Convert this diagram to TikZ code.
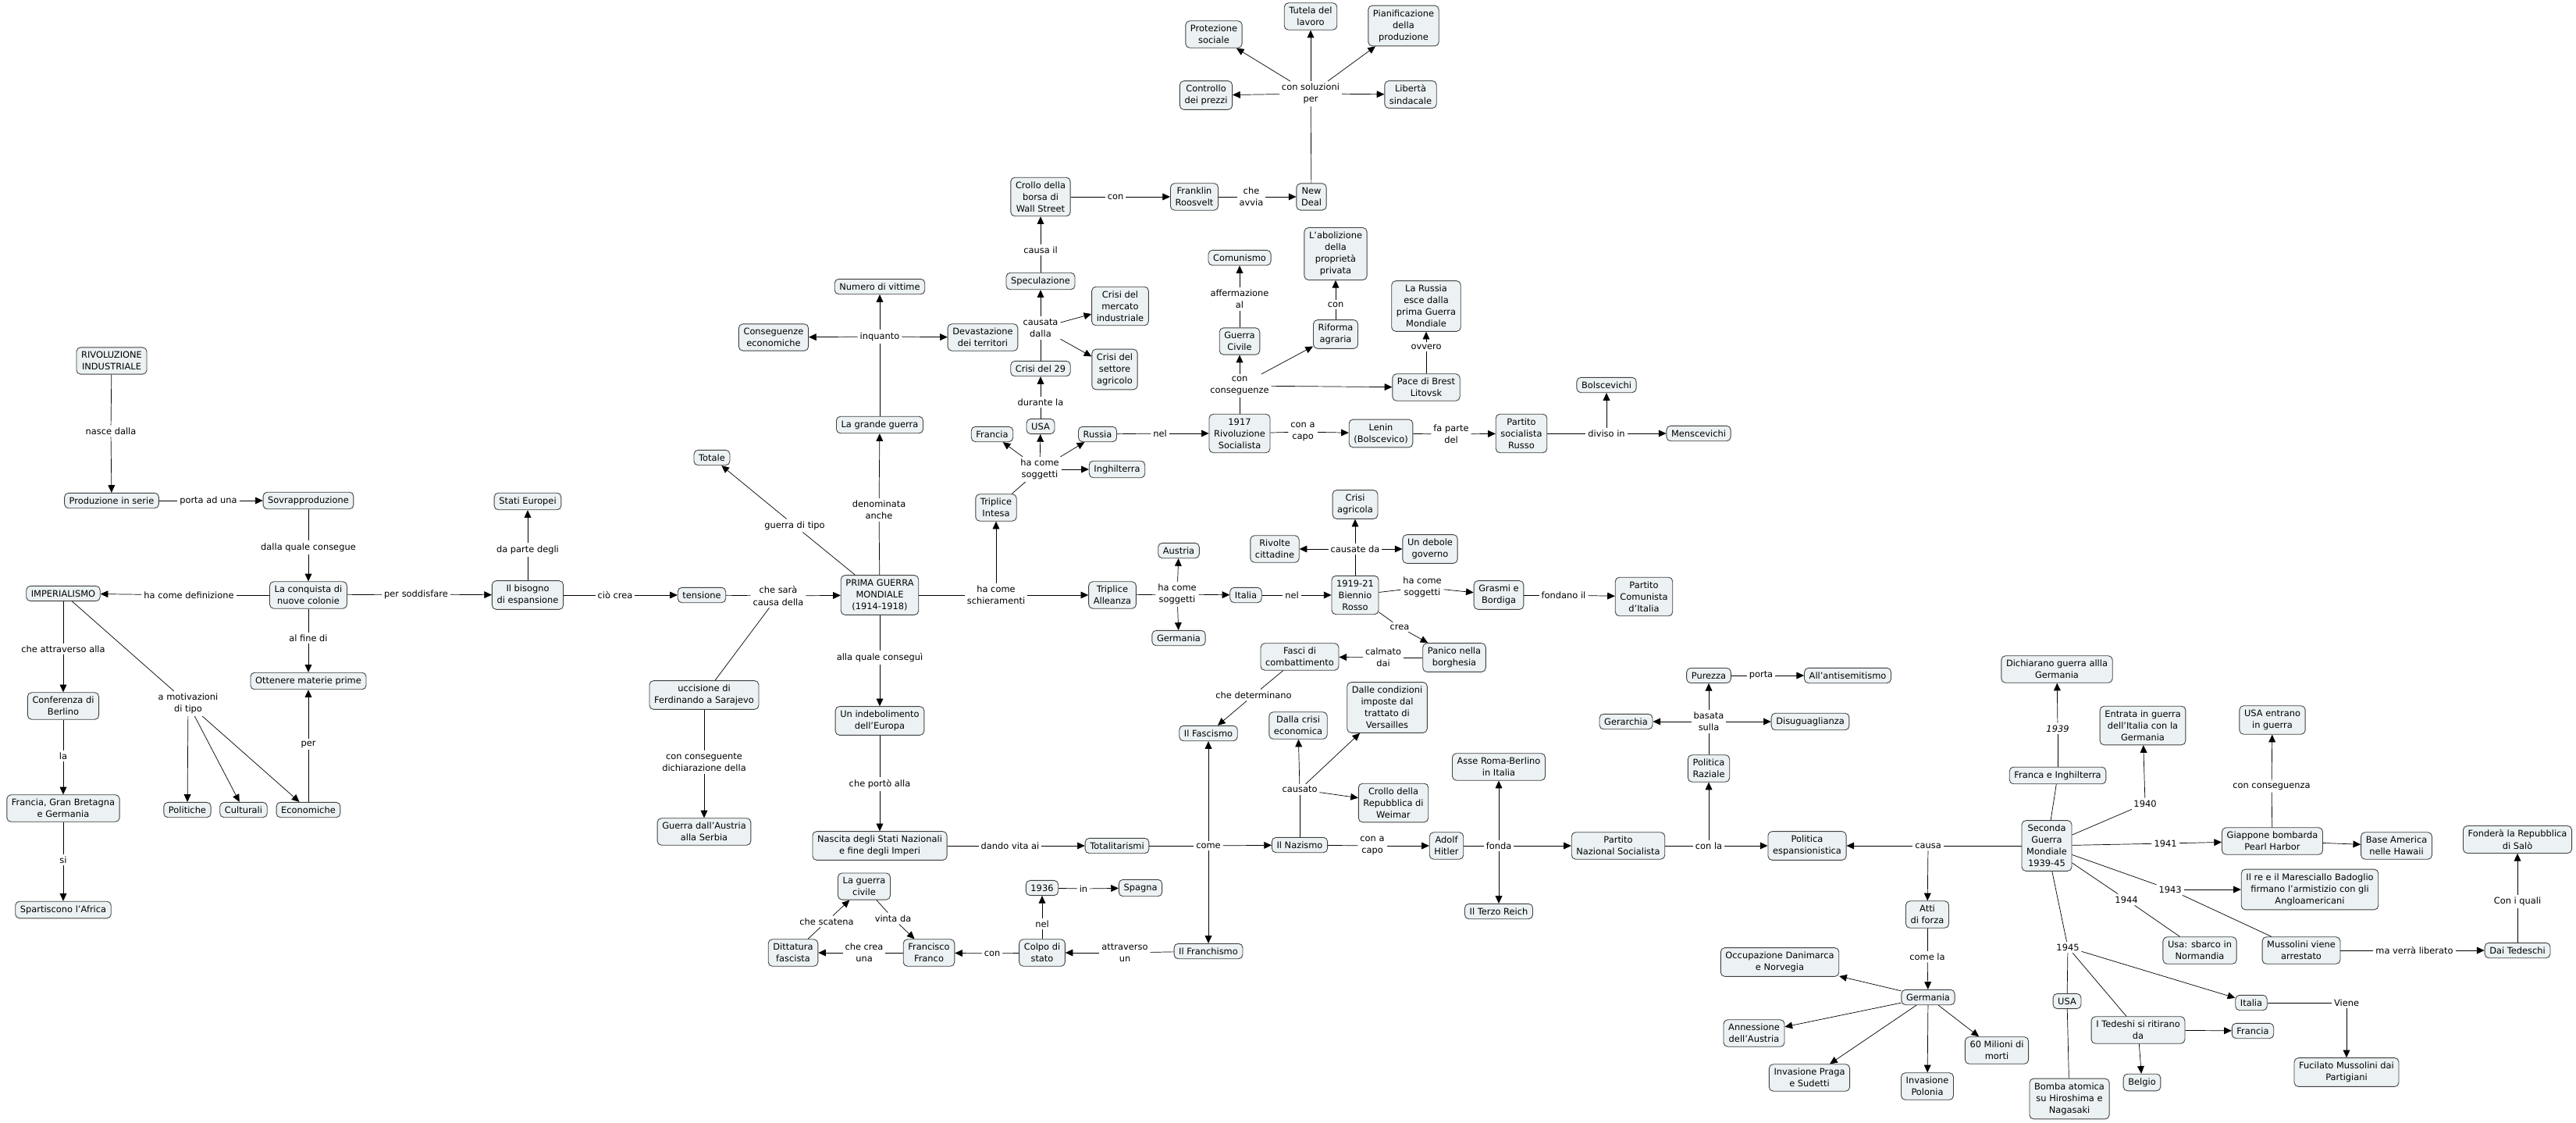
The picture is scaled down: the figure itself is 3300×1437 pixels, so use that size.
\documentclass[tikz,border=0pt]{standalone}
\usepackage{fontspec}
\setmainfont{DejaVu Sans}
\usetikzlibrary{arrows.meta}
\newcommand\cmapedge[3]{\draw[ln] (#1) -- (#2);\foreach \t in {#3}{\draw[ar] (#2) -- (\t);}}
\begin{document}
\begin{tikzpicture}[x=0.02cm,y=-0.02cm,
  box/.style={draw=black!75,fill={rgb,255:red,236;green,242;blue,244},rounded corners=3pt,align=center,inner xsep=3.5pt,inner ysep=3pt,font=\fontsize{6.5}{8.6}\selectfont,line width=0.5pt},
  lbl/.style={align=center,inner sep=1.5pt,font=\fontsize{6.5}{8.6}\selectfont},
  ln/.style={line width=0.4pt},
  ar/.style={line width=0.4pt,-{Triangle[length=5.5pt,width=5pt]}}]
\useasboundingbox (0,0) rectangle (3300,1437);
\fill[white] (0,0) rectangle (3300,1437);
% boxes
\node[box] (riv) at (143,462) {RIVOLUZIONE\\INDUSTRIALE};
\node[box] (prod) at (143,641) {Produzione in serie};
\node[box] (sovr) at (395,641) {Sovrapproduzione};
\node[box] (stati) at (676,642) {Stati Europei};
\node[box] (conq) at (395,762) {La conquista di\\nuove colonie};
\node[box] (imp) at (81,760) {IMPERIALISMO};
\node[box] (bis) at (676,762) {Il bisogno\\di espansione};
\node[box] (ott) at (395,872) {Ottenere materie prime};
\node[box] (conf) at (81,904) {Conferenza di\\Berlino};
\node[box] (fgb) at (81,1035) {Francia, Gran Bretagna\\e Germania};
\node[box] (spart) at (81,1165) {Spartiscono l'Africa};
\node[box] (pol) at (240,1037) {Politiche};
\node[box] (cult) at (312,1037) {Culturali};
\node[box] (econ) at (395,1037) {Economiche};
\node[box] (tens) at (899,762) {tensione};
\node[box] (pgm) at (1127,762) {PRIMA GUERRA\\MONDIALE\\(1914-1918)};
\node[box] (lgg) at (1127,544) {La grande guerra};
\node[box] (tot) at (912,586) {Totale};
\node[box] (tint) at (1276,650) {Triplice\\Intesa};
\node[box] (tall) at (1425,762) {Triplice\\Alleanza};
\node[box] (aus) at (1510,705) {Austria};
\node[box] (ger) at (1510,817) {Germania};
\node[box] (ita) at (1596,762) {Italia};
\node[box] (fra) at (1271,556) {Francia};
\node[box] (usa) at (1333,546) {USA};
\node[box] (rus) at (1406,556) {Russia};
\node[box] (ing) at (1431,601) {Inghilterra};
\node[box] (rs) at (1588,555) {1917\\Rivoluzione\\Socialista};
\node[box] (ucc) at (902,890) {uccisione di\\Ferdinando a Sarajevo};
\node[box] (gas) at (902,1065) {Guerra dall'Austria\\alla Serbia};
\node[box] (indeb) at (1127,923) {Un indebolimento\\dell'Europa};
\node[box] (nasc) at (1127,1083) {Nascita degli Stati Nazionali\\e fine degli Imperi};
\node[box] (totr) at (1431,1083) {Totalitarismi};
\node[box] (naz) at (1665,1082) {Il Nazismo};
\node[box] (fasc) at (1548,939) {Il Fascismo};
\node[box] (fdc) at (1665,841) {Fasci di\\combattimento};
\node[box] (fran) at (1548,1218) {Il Franchismo};
\node[box] (colpo) at (1335,1220) {Colpo di\\stato};
\node[box] (y36) at (1335,1137) {1936};
\node[box] (spa) at (1461,1137) {Spagna};
\node[box] (ffr) at (1190,1220) {Francisco\\Franco};
\node[box] (ditt) at (1016,1220) {Dittatura\\fascista};
\node[box] (lgc) at (1107,1135) {La guerra\\civile};
\node[box] (dce) at (1663,929) {Dalla crisi\\economica};
\node[box] (dcv) at (1777,906) {Dalle condizioni\\imposte dal\\trattato di\\Versailles};
\node[box] (weim) at (1785,1028) {Crollo della\\Repubblica di\\Weimar};
\node[box] (hit) at (1853,1083) {Adolf\\Hitler};
\node[box] (asse) at (1920,982) {Asse Roma-Berlino\\in Italia};
\node[box] (reich) at (1920,1167) {Il Terzo Reich};
\node[box] (pns) at (2073,1083) {Partito\\Nazional Socialista};
\node[box] (pesp) at (2315,1083) {Politica\\espansionistica};
\node[box] (praz) at (2189,984) {Politica\\Raziale};
\node[box] (ger2) at (2083,924) {Gerarchia};
\node[box] (disu) at (2319,924) {Disuguaglianza};
\node[box] (pur) at (2189,865) {Purezza};
\node[box] (anti) at (2367,865) {All'antisemitismo};
\node[box] (prot) at (1555,44) {Protezione\\sociale};
\node[box] (tut) at (1679,21) {Tutela del\\lavoro};
\node[box] (pian) at (1798,33) {Pianificazione\\della\\produzione};
\node[box] (contr) at (1545,122) {Controllo\\dei prezzi};
\node[box] (lib) at (1807,121) {Libertà\\sindacale};
\node[box] (crollo) at (1333,252) {Crollo della\\borsa di\\Wall Street};
\node[box] (frk) at (1530,252) {Franklin\\Roosvelt};
\node[box] (nd) at (1680,252) {New\\Deal};
\node[box] (spec) at (1333,360) {Speculazione};
\node[box] (nvit) at (1127,367) {Numero di vittime};
\node[box] (cec) at (991,432) {Conseguenze\\economiche};
\node[box] (dev) at (1259,432) {Devastazione\\dei territori};
\node[box] (cmi) at (1435,392) {Crisi del\\mercato\\industriale};
\node[box] (csa) at (1428,473) {Crisi del\\settore\\agricolo};
\node[box] (c29) at (1333,472) {Crisi del 29};
\node[box] (com) at (1588,330) {Comunismo};
\node[box] (gciv) at (1588,437) {Guerra\\Civile};
\node[box] (abol) at (1711,325) {L'abolizione\\della\\proprietà\\privata};
\node[box] (rif) at (1711,428) {Riforma\\agraria};
\node[box] (resce) at (1827,392) {La Russia\\esce dalla\\prima Guerra\\Mondiale};
\node[box] (brest) at (1827,496) {Pace di Brest\\Litovsk};
\node[box] (lenin) at (1769,555) {Lenin\\(Bolscevico)};
\node[box] (psr) at (1949,555) {Partito\\socialista\\Russo};
\node[box] (bol) at (2058,493) {Bolscevichi};
\node[box] (men) at (2176,555) {Menscevichi};
\node[box] (cagr) at (1736,646) {Crisi\\agricola};
\node[box] (riv2) at (1633,703) {Rivolte\\cittadine};
\node[box] (deb) at (1832,703) {Un debole\\governo};
\node[box] (bien) at (1736,762) {1919-21\\Biennio\\Rosso};
\node[box] (gras) at (1920,762) {Grasmi e\\Bordiga};
\node[box] (pci) at (2106,764) {Partito\\Comunista\\d'Italia};
\node[box] (pan) at (1863,842) {Panico nella\\borghesia};
\node[box] (sgm) at (2622,1083) {Seconda\\Guerra\\Mondiale\\1939-45};
\node[box] (atti) at (2469,1171) {Atti\\di forza};
\node[box] (germ) at (2470,1277) {Germania};
\node[box] (occ) at (2280,1232) {Occupazione Danimarca\\e Norvegia};
\node[box] (ann) at (2247,1323) {Annessione\\dell'Austria};
\node[box] (ipr) at (2318,1380) {Invasione Praga\\e Sudetti};
\node[box] (ipo) at (2469,1391) {Invasione\\Polonia};
\node[box] (mil) at (2558,1345) {60 Milioni di\\morti};
\node[box] (fei) at (2636,993) {Franca e Inghilterra};
\node[box] (dich) at (2635,857) {Dichiarano guerra allla\\Germania};
\node[box] (entr) at (2745,929) {Entrata in guerra\\dell'Italia con la\\Germania};
\node[box] (usae) at (2911,922) {USA entrano\\in guerra};
\node[box] (giap) at (2911,1077) {Giappone bombarda\\Pearl Harbor};
\node[box] (base) at (3070,1083) {Base America\\nelle Hawaii};
\node[box] (re) at (2959,1139) {Il re e il Maresciallo Badoglio\\firmano l'armistizio con gli\\Angloamericani};
\node[box] (sbar) at (2818,1217) {Usa: sbarco in\\Normandia};
\node[box] (muss) at (2948,1217) {Mussolini viene\\arrestato};
\node[box] (tede) at (3225,1217) {Dai Tedeschi};
\node[box] (salo) at (3225,1075) {Fonderà la Repubblica\\di Salò};
\node[box] (usa2) at (2648,1282) {USA};
\node[box] (bomba) at (2651,1407) {Bomba atomica\\su Hiroshima e\\Nagasaki};
\node[box] (rit) at (2739,1319) {I Tedeshi si ritirano\\da};
\node[box] (fra2) at (2886,1320) {Francia};
\node[box] (bel) at (2744,1386) {Belgio};
\node[box] (ita2) at (2884,1284) {Italia};
\node[box] (fuc) at (3006,1373) {Fucilato Mussolini dai\\Partigiani};
% labels
\node[lbl] (l1) at (142,552) {nasce dalla};
\node[lbl] (l2) at (267,641) {porta ad una};
\node[lbl] (l3) at (395,701) {dalla quale consegue};
\node[lbl] (l4) at (242,762) {ha come definizione};
\node[lbl] (l5) at (533,761) {per soddisfare};
\node[lbl] (l6) at (676,704) {da parte degli};
\node[lbl] (l7) at (788,762) {ciò crea};
\node[lbl] (l8) at (395,817) {al fine di};
\node[lbl] (l9) at (81,831) {che attraverso alla};
\node[lbl] (l10) at (241,901) {a motivazioni\\di tipo};
\node[lbl] (l11) at (395,953) {per};
\node[lbl] (l12) at (81,968) {la};
\node[lbl] (l13) at (81,1101) {si};
\node[lbl] (l14) at (997,763) {che sarà\\causa della};
\node[lbl] (l15) at (1018,673) {guerra di tipo};
\node[lbl] (l16) at (1126,653) {denominata\\anche};
\node[lbl] (l17) at (1276,762) {ha come\\schieramenti};
\node[lbl] (l18) at (1508,761) {ha come\\soggetti};
\node[lbl] (l19) at (1655,762) {nel};
\node[lbl] (l20) at (1332,601) {ha come\\soggetti};
\node[lbl] (l21) at (1333,515) {durante la};
\node[lbl] (l22) at (1486,555) {nel};
\node[lbl] (l23) at (1669,553) {con a\\capo};
\node[lbl] (l24) at (902,976) {con conseguente\\dichiarazione della};
\node[lbl] (l25) at (1127,842) {alla quale conseguì};
\node[lbl] (l26) at (1127,1004) {che portò alla};
\node[lbl] (l27) at (1294,1083) {dando vita ai};
\node[lbl] (l28) at (1548,1083) {come};
\node[lbl] (l29) at (1606,890) {che determinano};
\node[lbl] (l30) at (1441,1220) {attraverso\\un};
\node[lbl] (l31) at (1335,1183) {nel};
\node[lbl] (l32) at (1388,1138) {in};
\node[lbl] (l33) at (1271,1221) {con};
\node[lbl] (l34) at (1107,1220) {che crea\\una};
\node[lbl] (l35) at (1059,1180) {che scatena};
\node[lbl] (l36) at (1144,1176) {vinta da};
\node[lbl] (l37) at (1665,1011) {causato};
\node[lbl] (l38) at (1758,1083) {con a\\capo};
\node[lbl] (l39) at (1920,1083) {fonda};
\node[lbl] (l40) at (2189,1083) {con la};
\node[lbl] (l41) at (2189,924) {basata\\sulla};
\node[lbl] (l42) at (2256,865) {porta};
\node[lbl] (l43) at (1679,120) {con soluzioni\\per};
\node[lbl] (l44) at (1429,252) {con};
\node[lbl] (l45) at (1603,252) {che\\avvia};
\node[lbl] (l46) at (1333,320) {causa il};
\node[lbl] (l47) at (1127,431) {inquanto};
\node[lbl] (l48) at (1333,420) {causata\\dalla};
\node[lbl] (l49) at (1588,383) {affermazione\\al};
\node[lbl] (l50) at (1588,494) {con\\conseguenze};
\node[lbl] (l51) at (1711,390) {con};
\node[lbl] (l52) at (1827,444) {ovvero};
\node[lbl] (l53) at (1859,556) {fa parte\\del};
\node[lbl] (l54) at (2058,555) {diviso in};
\node[lbl] (l55) at (1736,703) {causate da};
\node[lbl] (l56) at (1822,752) {ha come\\soggetti};
\node[lbl] (l57) at (2003,762) {fondano il};
\node[lbl] (l58) at (1793,803) {crea};
\node[lbl] (l59) at (1772,842) {calmato\\dai};
\node[lbl] (l60) at (2470,1083) {causa};
\node[lbl] (l61) at (2469,1225) {come la};
\node[lbl] (l62) at (2636,933) {\itshape 1939};
\node[lbl] (l63) at (2748,1029) {1940};
\node[lbl] (l64) at (2910,1007) {con conseguenza};
\node[lbl] (l65) at (2774,1080) {1941};
\node[lbl] (l66) at (2780,1139) {1943};
\node[lbl] (l67) at (2724,1152) {1944};
\node[lbl] (l68) at (3093,1217) {ma verrà liberato};
\node[lbl] (l69) at (3225,1154) {Con i quali};
\node[lbl] (l70) at (2649,1213) {1945};
\node[lbl] (l71) at (3006,1284) {Viene};
% edges
\cmapedge{riv}{l1}{prod}
\cmapedge{prod}{l2}{sovr}
\cmapedge{sovr}{l3}{conq}
\cmapedge{conq}{l4}{imp}
\cmapedge{conq}{l5}{bis}
\cmapedge{conq}{l8}{ott}
\cmapedge{econ}{l11}{ott}
\cmapedge{imp}{l9}{conf}
\cmapedge{conf}{l12}{fgb}
\cmapedge{fgb}{l13}{spart}
\cmapedge{imp}{l10}{pol,cult,econ}
\cmapedge{bis}{l6}{stati}
\cmapedge{bis}{l7}{tens}
\cmapedge{tens}{l14}{pgm}
\draw[ln] (ucc) -- (l14);
\cmapedge{ucc}{l24}{gas}
\cmapedge{pgm}{l15}{tot}
\cmapedge{pgm}{l16}{lgg}
\cmapedge{lgg}{l47}{nvit,cec,dev}
\cmapedge{pgm}{l17}{tall,tint}
\cmapedge{tint}{l20}{fra,usa,rus,ing}
\cmapedge{usa}{l21}{c29}
\cmapedge{c29}{l48}{spec,cmi,csa}
\cmapedge{spec}{l46}{crollo}
\cmapedge{crollo}{l44}{frk}
\cmapedge{frk}{l45}{nd}
\cmapedge{nd}{l43}{prot,tut,pian,contr,lib}
\cmapedge{rus}{l22}{rs}
\cmapedge{rs}{l23}{lenin}
\cmapedge{lenin}{l53}{psr}
\cmapedge{psr}{l54}{men,bol}
\cmapedge{rs}{l50}{gciv,rif,brest}
\cmapedge{gciv}{l49}{com}
\cmapedge{rif}{l51}{abol}
\cmapedge{brest}{l52}{resce}
\cmapedge{tall}{l18}{aus,ger,ita}
\cmapedge{ita}{l19}{bien}
\cmapedge{bien}{l55}{cagr,riv2,deb}
\cmapedge{bien}{l56}{gras}
\cmapedge{gras}{l57}{pci}
\cmapedge{bien}{l58}{pan}
\cmapedge{pan}{l59}{fdc}
\cmapedge{fdc}{l29}{fasc}
\cmapedge{pgm}{l25}{indeb}
\cmapedge{indeb}{l26}{nasc}
\cmapedge{nasc}{l27}{totr}
\cmapedge{totr}{l28}{naz,fasc,fran}
\cmapedge{naz}{l37}{dce,dcv,weim}
\cmapedge{naz}{l38}{hit}
\cmapedge{hit}{l39}{pns,asse,reich}
\cmapedge{pns}{l40}{pesp,praz}
\cmapedge{praz}{l41}{pur,ger2,disu}
\cmapedge{pur}{l42}{anti}
\cmapedge{fran}{l30}{colpo}
\cmapedge{colpo}{l31}{y36}
\cmapedge{y36}{l32}{spa}
\cmapedge{colpo}{l33}{ffr}
\cmapedge{ffr}{l34}{ditt}
\cmapedge{ditt}{l35}{lgc}
\cmapedge{lgc}{l36}{ffr}
\cmapedge{sgm}{l60}{pesp,atti}
\cmapedge{atti}{l61}{germ}
\foreach \t in {occ,ann,ipr,ipo,mil} \draw[ar] (germ) -- (\t);
\draw[ln] (sgm) -- (fei);
\cmapedge{fei}{l62}{dich}
\cmapedge{sgm}{l63}{entr}
\cmapedge{sgm}{l65}{giap}
\draw[ar] (giap) -- (base);
\cmapedge{giap}{l64}{usae}
\cmapedge{sgm}{l66}{re}
\draw[ln] (l66) -- (muss);
\draw[ln] (sgm) -- (l67) -- (sbar);
\cmapedge{muss}{l68}{tede}
\cmapedge{tede}{l69}{salo}
\cmapedge{sgm}{l70}{ita2}
\draw[ln] (l70) -- (usa2);
\draw[ln] (l70) -- (rit);
\draw[ln] (usa2) -- (bomba);
\draw[ar] (rit) -- (fra2);
\draw[ar] (rit) -- (bel);
\draw[ln] (ita2) -- (l71.west);
\draw[ar] (l71) -- (fuc);
\end{tikzpicture}
\end{document}
